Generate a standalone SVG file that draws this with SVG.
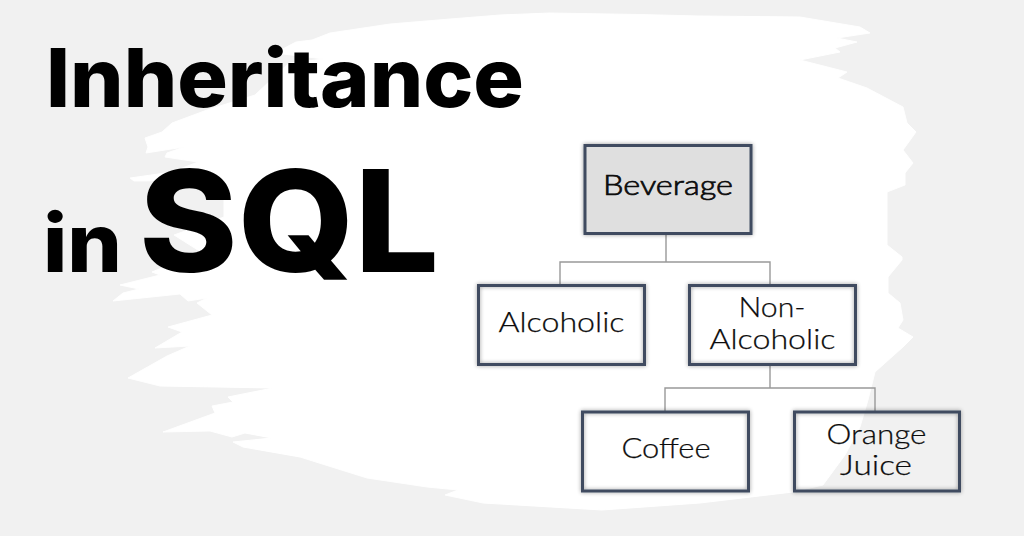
<svg xmlns="http://www.w3.org/2000/svg" width="1024" height="536" viewBox="0 0 1024 536">
<style>
.title{font-family:"Inter","Liberation Sans",sans-serif;font-weight:800;fill:#000}
.box{fill:none;stroke:#3f4c60;stroke-width:3}
.lbl{font-family:"Lato","Noto Sans",sans-serif;font-size:27px;font-weight:300;fill:#0c0c0c;stroke:#0c0c0c;stroke-width:0.25;text-anchor:middle}
.c{fill:none;stroke:#999;stroke-width:1.4}
</style>
<defs>
<filter id="sh" x="-10%" y="-10%" width="120%" height="120%">
<feGaussianBlur in="SourceAlpha" stdDeviation="2.200"/>
<feComponentTransfer><feFuncA type="linear" slope="0.4"/></feComponentTransfer>
<feMerge><feMergeNode/><feMergeNode in="SourceGraphic"/></feMerge>
</filter>
</defs>
<rect width="1024" height="536" fill="#f1f1f1"/>
<path id="brush" fill="#fff" stroke="#fff" stroke-width="1" stroke-linejoin="round" d="M312 40L330 33L390 24L450 19L500 15L550 13L640 14.500L700 16L800 17L860 27L870 33L837 38L857 42L835 48L840 52L800 60L847 72L838 78L867 88L903 107L907 123L916 132L903 150L913 163L905 173L905 185L887 192L887 245L902 257L902 260L888 277L888 293L900 303L903 320L898 328L913 337L903 347L875 372L868 400L860 427L845 455L823 485L793 492L700 503L602 510L483 503L445 495L458 490L427 487L367 478L335 468L300 457L243 447L233 442L272 438L245 433L232 437L210 431L163 432L215 413L212 406L233 402L228 397L273 388L160 386L128 378L167 356L190 346L155 348L182 332L168 327L212 315L197 303L207 298L188 301L180 294L113 301L123 293L139 289L120 285L160 275L152 272L201 252L174 235L224 217L224 180L134 181L130 178L172 172L198 162L165 157L167 153L184 147L146 153L148 147L145 138L162 132L172 123L207 110L255 95L289 63L324 59L275 53L296 42Z"/>
<g id="connectors">
<path class="c" d="M666 235V262M560 286V262H770V286"/>
<path class="c" d="M770 366V388M665 412V388H875V412"/>
</g>
<g id="title">
<text class="title" x="46" y="107" font-size="81" textLength="478" lengthAdjust="spacingAndGlyphs">Inheritance</text>
<text class="title" x="43" y="272" font-size="81" textLength="79" lengthAdjust="spacingAndGlyphs">in</text>
<text class="title" x="139" y="272" font-size="141" textLength="300" lengthAdjust="spacingAndGlyphs">SQL</text>
</g>
<g id="beverage">
<rect x="585" y="145.500" width="166" height="88" fill="#dfdfdf" filter="url(#sh)" stroke="#3f4c60" stroke-width="3"/>
<text class="lbl" x="668" y="195" textLength="130" lengthAdjust="spacingAndGlyphs" style="stroke-width:0.7">Beverage</text>
</g>
<g id="alcoholic">
<rect class="box" x="478.500" y="285.500" width="166" height="79" filter="url(#sh)"/>
<text class="lbl" x="561.500" y="332" textLength="126" lengthAdjust="spacingAndGlyphs">Alcoholic</text>
</g>
<g id="non-alcoholic">
<rect class="box" x="689.500" y="285.500" width="166" height="79" filter="url(#sh)"/>
<text class="lbl" x="772" y="317" textLength="67" lengthAdjust="spacingAndGlyphs">Non-</text>
<text class="lbl" x="772.500" y="349" textLength="126" lengthAdjust="spacingAndGlyphs">Alcoholic</text>
</g>
<g id="coffee">
<rect class="box" x="582.500" y="412" width="166" height="79" filter="url(#sh)"/>
<text class="lbl" x="666" y="458" textLength="89" lengthAdjust="spacingAndGlyphs">Coffee</text>
</g>
<g id="orange-juice">
<rect class="box" x="794.500" y="412" width="165" height="79" filter="url(#sh)"/>
<text class="lbl" x="876.500" y="444" textLength="100" lengthAdjust="spacingAndGlyphs">Orange</text>
<text class="lbl" x="876" y="475" textLength="72" lengthAdjust="spacingAndGlyphs">Juice</text>
</g>
</svg>
